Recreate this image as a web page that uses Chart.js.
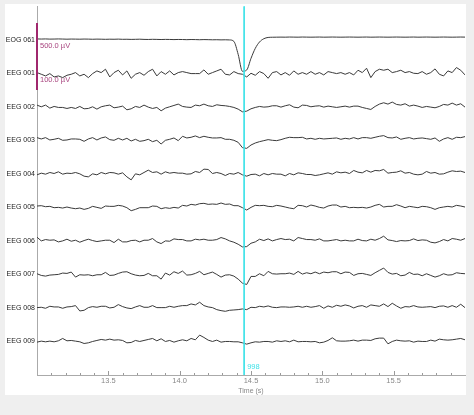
<!DOCTYPE html>
<html>
<head>
<meta charset="utf-8">
<script src="https://cdn.jsdelivr.net/npm/chart.js"></script>
<style>
html, body { margin: 0; padding: 0; background: #efefef; }
#panel { position: absolute; left: 5px; top: 4px; width: 461px; height: 391px; background: #ffffff; }
#rawChart { position: absolute; left: 0; top: 0; }
</style>
</head>
<body>
<div id="panel"></div>
<canvas id="rawChart" width="474" height="415"></canvas>
<script>
// channel labels, top to bottom
const channelNames = ["EOG 061", "EEG 001", "EEG 002", "EEG 003", "EEG 004",
                      "EEG 005", "EEG 006", "EEG 007", "EEG 008", "EEG 009"];
// µV that span one channel row (scale bar)
const channelScales = [500, 100, 100, 100, 100, 100, 100, 100, 100, 100];
const scaleLabels = ["500.0 µV", "100.0 µV"];

// sampling of the traces (s)
const tStart = 13.0;
const tStep = 0.03;

// values in µV (positive = up)
const eog061 = [12, 10, 12, 9, 10, 12, 10, 8, 10, 9, 8, 10, 9, 7, 9, 8, 6, 8, 7, 9,
  6, 7, 5, 6, 8, 5, 4, 6, 5, 3, 5, 4, 2, 4, 3, 1, 3, 2, 0, 2, 1, -1, 0, -2, -1, -3,
  -25, -218, -471, -451, -278, -129, -33, 15, 34,
  37, 38, 39, 38, 40, 39, 38, 40, 39, 38, 39, 40, 38, 39, 40, 39, 38, 39, 40, 39,
  38, 39, 40, 38, 39, 40, 39, 38, 39, 40, 39, 38, 39, 40, 38, 39, 40, 39, 38, 39,
  40, 39, 38, 39, 40, 39];
const eeg001 = [2, -3, -8, -1, -11, -8, -13, -6, -3, 2, -8, -3, -13, -1, 7, 2, 12, -11, 2, 9,
  -5, 7, -15, -3, 2, -6, 5, 12, -8, 5, -3, 7, -5, 2,
  5, 2, -1, -1, -1, 10, -3, 2, 7, 12, -3, -5, 5, -1, -3, -11, 0, -6, 5, -1,
  -15, 2, 5, -5, 2, -6, 7, -3, 2, -3, 5, -3, 2,
  -5, 5, 2, -1, 2, -3, 2, -5, 9, 2, 15, -13, 5, 12, 9, 12, 2, 5, 9, 2,
  5, 0, -1, 5, -3, 2, 13, -3, -8, 7, 2, 17, 9, -5];
const eeg002 = [5, 0, 5, -4, 1, -2, -2, -5, -2, -5, 1, -6, -5, 0, -7, 0, 3, 5, -3, -1,
  2, -9, -6, 1, -2, 5, -1, -5, -2, -12, -4, 0, 4, 8,
  1, -1, -2, 5, 3, 8, 3, 1, 6, 4, 3, 1, -2, -7, -15, -13, -6, -2, 1, -1,
  0, 3, 3, -1, 3, 6, -1, -3, 5, 4, 0, 2, 3,
  -1, 2, 0, -2, 0, 2, -1, 2, 2, -2, -5, -8, 1, 8, 12, 8, 14, 7, 5, 9,
  2, 5, 2, -2, 1, -1, -3, 1, 7, 5, 11, 5, 9, -1];
const eeg003 = [8, 4, 8, 1, 3, 6, 0, 1, 4, 4, 3, -3, 4, 8, 1, 7, 10, 2, 0, 6,
  1, 6, -2, 3, -3, -1, 3, -4, 0, -11, 0, 3, 7, -1,
  12, 7, 9, 13, 8, 12, 9, 7, 7, 8, 3, 3, 0, -6, -22, -24, -14, -8, -4, -1,
  2, 0, -1, 2, 6, 9, 8, 8, 9, 4, 6, 3, 6,
  4, 5, 6, 7, 3, 6, 4, 8, 4, 8, 8, 6, 9, 12, 14, 8, 7, 10, 3, 6,
  8, 4, 6, 7, 5, 3, 7, -3, 4, 8, 3, 9, 8, 11];
const eeg004 = [-3, 2, -1, 4, 1, 6, -1, 2, 1, 4, 0, -7, -9, 0, -3, 4, 0, 4, 3, -1,
  3, -9, -18, 0, -3, 4, 11, 4, 6, -1, 6, 2, 4, 2,
  2, -1, 0, 7, 4, 14, 13, 1, 4, 1, -5, 1, -1, 4, -3, -7, -2, -1, -6, 1,
  -3, 1, -1, -1, -6, 1, -3, 3, 1, -2, -2, -5, -3,
  0, 3, -1, 6, 3, 5, 1, 10, 5, 3, 10, 5, 10, 9, 13, 2, 4, 5, 9, 2,
  4, -1, -3, -1, 7, 2, 4, -1, 0, 5, 9, 7, 8, 4];
const eeg005 = [4, 5, 2, 3, -1, 0, -2, 1, -2, -4, -2, -6, -3, 3, 0, -3, 4, 3, 3, 6,
  4, -1, -10, -6, -1, -1, -1, 4, 3, -4, -1, -3, 0, -2,
  6, 4, 9, 7, 11, 12, 9, 10, 9, 13, 9, 10, 5, 5, -1, -8, 0, 6, 5, 6,
  3, 2, 6, 4, 1, -2, -4, 6, 5, 1, 7, 4, 0,
  -2, 4, 7, 7, 1, 3, -1, 0, -1, 0, -2, 1, 6, 9, 1, 3, 3, 8, 4, -1,
  3, 1, -1, 3, 2, -1, -6, -1, 1, 3, 1, 6, 4, 1];
const eeg006 = [11, 0, 4, 2, 3, -3, 0, 5, -1, 2, -4, 1, 5, 1, -2, 0, 2, 2, -5, 5,
  -3, -3, 1, 2, -3, 2, 2, 7, -3, -8, 0, -1, 6, 4,
  4, 0, 0, 5, 3, 5, 2, 2, 4, 10, 6, 0, -4, -10, -18, -17, -7, -3, 5, 1,
  6, 0, 4, 7, 4, 5, 0, 10, 7, 4, 4, 2, 6,
  0, 0, 2, 4, 0, 2, 0, 0, 5, 1, 0, 5, 2, 7, 14, 3, 1, -2, 1, 0,
  1, 6, 1, 3, 2, -4, -6, -2, 4, 0, 7, 5, 2, 7];
const eeg007 = [2, -3, -5, -2, -1, 0, 4, 3, 7, -8, -1, -2, -1, -4, -1, -1, 6, -3, -2, 3,
  7, 8, 2, -2, -4, -3, 3, -4, -4, -14, 4, -2, 8, 3,
  10, -2, -1, 3, 9, -1, 3, 7, 0, -8, -2, -1, -5, -14, -26, -30, -6, -6, 2, -4,
  9, 2, 1, 2, 2, 4, 0, 9, 1, 5, 2, 7, 2,
  7, 5, 8, 8, 2, 7, 6, -3, 2, 3, 0, -3, 5, 12, 19, 6, 1, 3, -4, -2,
  6, 0, 1, -4, 2, -3, -8, -4, 2, -2, -1, 5, 3, 2];
const eeg008 = [1, 2, -1, 5, 3, 3, -1, 3, 4, 7, -9, -7, 1, 4, 2, 5, 5, 0, 2, 10,
  4, 0, -2, 3, 7, 2, 2, 7, 1, 1, 1, 5, 2, 5,
  7, 7, 12, 9, 17, 7, 3, 1, -5, -8, -10, -7, -6, -5, -3, -5, 2, 1, 5, 3,
  6, 2, 1, 3, 3, 2, 3, 5, 2, 5, 2, 4, 7,
  -1, 6, 2, 8, 5, 9, 6, 0, 5, 7, 2, 9, 7, 5, 12, 4, 14, 6, -1, 4,
  3, 7, 3, 2, 3, 4, 1, 5, 6, 2, 7, 2, 11, 1];
const eeg009 = [-2, 1, -1, 1, -1, 2, 9, 2, 3, 1, -1, -6, -4, 0, 3, 6, 4, 7, 4, 5,
  3, -4, -3, 3, 0, 3, 6, 9, 2, 8, 0, 3, -2, 2,
  5, 2, 9, 5, 19, 12, 4, 0, 4, -2, 0, 0, -1, -1, -4, -8, -4, -1, -2, 0,
  0, -2, 2, 0, 2, -1, 4, -1, 0, 0, -1, 0, -4,
  -2, 3, 11, 2, 1, 1, 2, 4, 1, 4, 4, 3, 8, 10, 10, -7, 0, 4, 2, 1,
  2, -2, 1, 0, 0, 4, 1, 7, 5, 4, 5, 7, 9, 5];

const traces = [eog061, eeg001, eeg002, eeg003, eeg004, eeg005, eeg006, eeg007, eeg008, eeg009];

const xTickValues = [13.5, 14.0, 14.5, 15.0, 15.5];
const cursorTime = 14.452;
const cursorLabel = "998";

const traceColor = "#3a3a3a";
const scaleColor = "#a0276d";
const cursorColor = "#3fe2e8";

// build line datasets (rows stack downward, y axis reversed)
const times = eog061.map((_, i) => tStart + i * tStep);
const traceSets = traces.map((vals, ch) => ({
    data: vals.map((v, i) => ({ x: times[i], y: ch - v / channelScales[ch] })),
    borderColor: traceColor,
    borderWidth: 1,
    pointRadius: 0,
    tension: ch === 0 ? 0.4 : 0,
    cubicInterpolationMode: ch === 0 ? "monotone" : "default",
    order: 2
}));

const scaleBar = {
    data: [{ x: tStart, y: -0.5 }, { x: tStart, y: 1.5 }],
    borderColor: scaleColor,
    borderWidth: 2,
    pointRadius: 0,
    clip: false,
    order: 1
};

const cursorLine = {
    data: [{ x: cursorTime, y: -1 }, { x: cursorTime, y: 10 }],
    borderColor: cursorColor,
    borderWidth: 1,
    pointRadius: 0,
    order: 0
};

// inward ticks, scale bar text, cursor text
const overlayPlugin = {
    id: "overlay",
    afterDraw(chart) {
        const { ctx, chartArea, scales: { x, y } } = chart;
        ctx.save();
        ctx.strokeStyle = "#9a9a9a";
        ctx.lineWidth = 1;
        for (let i = 1; i < 30; i++) {
            const px = Math.round(x.getPixelForValue(13 + i * 0.1)) + 0.5;
            const len = i % 5 === 0 ? 4 : 2;
            ctx.beginPath();
            ctx.moveTo(px, chartArea.bottom);
            ctx.lineTo(px, chartArea.bottom - len);
            ctx.stroke();
        }
        ctx.font = "7.5px 'Liberation Sans', sans-serif";
        ctx.fillStyle = "#a8457f";
        ctx.textBaseline = "middle";
        ctx.textAlign = "left";
        const x0 = x.getPixelForValue(tStart) + 3;
        ctx.fillText(scaleLabels[0], x0, y.getPixelForValue(0.2));
        ctx.fillText(scaleLabels[1], x0, y.getPixelForValue(1.2));
        ctx.fillStyle = cursorColor;
        ctx.fillText(cursorLabel, x.getPixelForValue(cursorTime) + 3, chartArea.bottom - 8);
        ctx.restore();
    }
};

new Chart(document.getElementById("rawChart").getContext("2d"), {
    type: "line",
    data: { datasets: [...traceSets, scaleBar, cursorLine] },
    options: {
        responsive: false,
        animation: false,
        layout: { padding: { top: 4.6, right: 9, left: 0, bottom: 0 } },
        plugins: { legend: { display: false }, tooltip: { enabled: false } },
        scales: {
            x: {
                type: "linear",
                min: 13,
                max: 16,
                afterBuildTicks: s => { s.ticks = xTickValues.map(v => ({ value: v })); },
                afterFit: s => { s.height = 40; },
                grid: { display: false, drawTicks: false },
                border: { display: true, color: "#aaaaaa" },
                ticks: {
                    padding: 1,
                    color: "#888888",
                    font: { family: "'Liberation Sans', sans-serif", size: 7.5 },
                    callback: v => v.toFixed(1)
                },
                title: {
                    display: true,
                    text: "Time (s)",
                    color: "#888888",
                    font: { family: "'Liberation Sans', sans-serif", size: 7 },
                    padding: { top: 0, bottom: 20 }
                }
            },
            y: {
                type: "linear",
                min: -1,
                max: 10,
                reverse: true,
                afterBuildTicks: s => { s.ticks = channelNames.map((_, i) => ({ value: i })); },
                afterFit: s => { s.width = 37; },
                grid: { display: false, drawTicks: false },
                border: { display: true, color: "#aaaaaa" },
                ticks: {
                    padding: 2,
                    autoSkip: false,
                    color: "#222222",
                    font: { family: "'Liberation Sans', sans-serif", size: 7 },
                    callback: v => channelNames[v]
                }
            }
        }
    },
    plugins: [overlayPlugin]
});
</script>
</body>
</html>
